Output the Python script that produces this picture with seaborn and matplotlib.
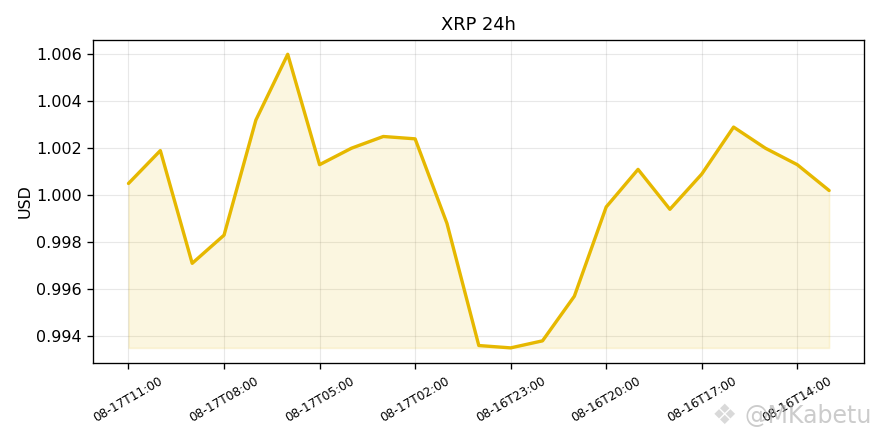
import pandas as pd
import matplotlib
matplotlib.use("Agg")
import matplotlib.pyplot as plt
import seaborn as sns

# hourly prices, newest first (as plotted)
hours = ["08-17T11:00", "08-17T10:00", "08-17T09:00", "08-17T08:00", "08-17T07:00",
         "08-17T06:00", "08-17T05:00", "08-17T04:00", "08-17T03:00", "08-17T02:00",
         "08-17T01:00", "08-17T00:00", "08-16T23:00", "08-16T22:00", "08-16T21:00",
         "08-16T20:00", "08-16T19:00", "08-16T18:00", "08-16T17:00", "08-16T16:00",
         "08-16T15:00", "08-16T14:00", "08-16T13:00"]
prices = [1.0005, 1.0019, 0.9971, 0.9983, 1.0032, 1.0060, 1.0013, 1.0020, 1.0025, 1.0024,
          0.9988, 0.9936, 0.9935, 0.9938, 0.9957, 0.9995, 1.0011, 0.9994, 1.0009, 1.0029,
          1.0020, 1.0013, 1.0002]
y_ticks = [0.994, 0.996, 0.998, 1.0, 1.002, 1.004, 1.006]
tick_labels = hours[::3]

df = pd.DataFrame({"hour": hours, "price": prices})
df["pos"] = range(len(df))

sns.set_style("ticks")
plt.rcParams["font.family"] = ["DejaVu Sans"]
plt.rcParams["text.color"] = "black"
plt.rcParams["axes.labelcolor"] = "black"
plt.rcParams["xtick.color"] = "black"
plt.rcParams["ytick.color"] = "black"
plt.rcParams["axes.edgecolor"] = "black"

fig, ax = plt.subplots(figsize=(880 / 120, 440 / 120), dpi=120)
sns.lineplot(data=df, x="pos", y="price", color="#e6b800", linewidth=2, ax=ax)
ax.fill_between(df["pos"], df["price"], df["price"].min(), color="#e6b800", alpha=0.12)

ax.set_xticks(df["pos"][::3])
ax.set_xticklabels(tick_labels, rotation=30, fontsize=7.3)
ax.set_yticks(y_ticks)
ax.tick_params(axis="both", length=3.5, width=0.8)
ax.tick_params(axis="y", labelsize=9.6)
ax.grid(True, color="#808080", linewidth=0.7, alpha=0.18)
ax.set_title("XRP 24h", fontsize=10.7)
ax.set_xlabel("")
ax.set_ylabel("USD", fontsize=9.5, labelpad=2)
for side in ax.spines.values():
    side.set_visible(True)
    side.set_linewidth(0.8)

fig.subplots_adjust(left=0.1062, right=0.982, top=0.910, bottom=0.176)

# watermark bottom right
fig.text(0.823, 0.055, "\u2756", fontsize=17, color="#bbbbbb", alpha=0.55, ha="center", va="center")
fig.text(0.918, 0.055, "@MKabetu", fontsize=14.2, color="#aaaaaa", alpha=0.6, ha="center", va="center")

fig.savefig("out.png", dpi=120)
